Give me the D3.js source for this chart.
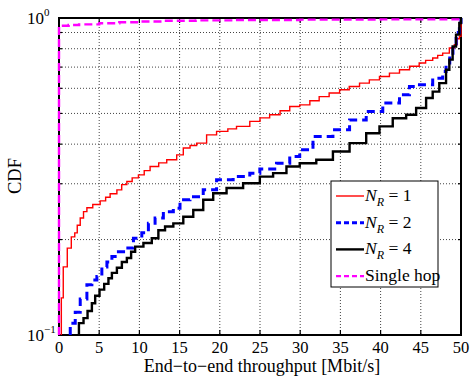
<!DOCTYPE html>
<html>
<head>
<meta charset="utf-8">
<script src="https://cdn.jsdelivr.net/npm/d3@7"></script>
<style>
body { margin: 0; background: #fff; }
text { font-family: "Liberation Serif", "Times New Roman", serif; fill: #000; }
</style>
</head>
<body>
<svg id="chart" width="474" height="376"></svg>
<script>
const xTicks = [0, 5, 10, 15, 20, 25, 30, 35, 40, 45, 50]
const yMinor = [0.2, 0.3, 0.4, 0.5, 0.6, 0.7, 0.8, 0.9]

// [throughput, cdf] at each jump of the step curve
const nr1 = [[0.29, 0.1], [0.29, 0.131], [0.53, 0.164], [1.03, 0.188], [1.53, 0.204], [1.96, 0.21],
    [2.27, 0.222], [2.64, 0.234], [3.05, 0.245], [3.47, 0.252], [4.2, 0.258], [5.12, 0.265],
    [5.8, 0.272], [6.36, 0.279], [7.2, 0.287], [7.8, 0.298], [8.44, 0.305], [9.1, 0.313],
    [9.88, 0.32], [10.6, 0.33], [11.33, 0.34], [12.4, 0.349], [13.4, 0.357], [14.64, 0.37],
    [15.46, 0.389], [16.3, 0.396], [17.12, 0.403], [18.36, 0.428], [19.6, 0.439], [21, 0.447],
    [22.08, 0.455], [23.73, 0.472], [25, 0.484], [26.2, 0.495], [27.5, 0.51], [28.7, 0.526],
    [29.94, 0.532], [31.2, 0.548], [32.36, 0.565], [33.6, 0.58], [34.9, 0.594], [36.1, 0.608],
    [37.38, 0.623], [38.6, 0.638], [39.86, 0.654], [41.1, 0.67], [42.35, 0.687], [43.6, 0.704],
    [44.8, 0.721], [45.6, 0.735], [46.48, 0.748], [47.1, 0.762], [47.72, 0.775], [48.55, 0.804],
    [49.17, 0.823], [49.5, 0.86], [49.8, 0.875], [50, 1]]

const nr2 = [[1.4, 0.1], [1.4, 0.109], [2.02, 0.118], [2.64, 0.13], [3.47, 0.144], [4.09, 0.149],
    [4.71, 0.153], [5.33, 0.164], [5.96, 0.17], [6.58, 0.177], [7.39, 0.183], [8.23, 0.188],
    [9.26, 0.202], [10.3, 0.21], [11.12, 0.225], [11.95, 0.234], [12.98, 0.245], [14.22, 0.251],
    [15.05, 0.267], [16.29, 0.273], [17.94, 0.287], [19.6, 0.309], [21.66, 0.316], [23.73, 0.324],
    [24.98, 0.334], [27.05, 0.348], [28.7, 0.366], [29.94, 0.384], [31.59, 0.423], [34.07, 0.444],
    [36.14, 0.477], [38.21, 0.507], [40.27, 0.539], [42.35, 0.573], [43.59, 0.608], [44.42, 0.616],
    [46.48, 0.646], [47.72, 0.678], [48.14, 0.721], [48.6, 0.76], [49, 0.83], [49.4, 0.9],
    [49.8, 0.97], [50, 1]]

const nr4 = [[2.48, 0.1], [2.48, 0.109], [3.05, 0.113], [3.55, 0.119], [4.09, 0.126], [4.5, 0.133],
    [5.04, 0.139], [5.62, 0.145], [6.15, 0.151], [6.58, 0.157], [7.2, 0.163], [7.82, 0.17],
    [8.44, 0.175], [8.97, 0.183], [9.47, 0.19], [10.5, 0.195], [11.54, 0.202], [12.36, 0.214],
    [13.19, 0.22], [14.22, 0.225], [15.46, 0.236], [16.7, 0.248], [17.94, 0.267], [19.18, 0.28],
    [20.84, 0.291], [22.9, 0.301], [24.98, 0.316], [26.63, 0.324], [28.29, 0.34], [29.94, 0.348],
    [32, 0.357], [34.07, 0.379], [36.14, 0.403], [38.21, 0.433], [39.86, 0.455], [41.51, 0.483],
    [43.18, 0.495], [44.42, 0.52], [45.66, 0.559], [46.48, 0.586], [47.3, 0.623], [48.14, 0.687],
    [48.55, 0.739], [48.96, 0.813], [49.38, 0.886], [49.79, 0.964], [50, 1]]

const singleHop = [[0, 0.1], [0, 0.945], [1.2, 0.95], [2.5, 0.955], [5, 0.963], [7.5, 0.97],
    [10, 0.975], [13, 0.98], [17, 0.983], [22, 0.986], [30, 0.988], [40, 0.99], [50, 0.99]]

const legendNums = ['1', '2', '4']

let svg = d3.select('#chart')
let x = d3.scaleLinear().domain([0, 50]).range([59, 461])
let y = d3.scaleLog().domain([0.1, 1]).range([335, 18])
let [x0, x1] = x.range(), [y0, y1] = y.range()

// grid
let grid = svg.append('g')
    .attr('stroke', '#444')
    .attr('stroke-width', 1)
    .attr('stroke-dasharray', '1,2')
grid.selectAll('.gx').data(xTicks.slice(1, -1)).join('line')
    .attr('x1', d => x(d)).attr('x2', d => x(d))
    .attr('y1', y1).attr('y2', y0)
grid.selectAll('.gy').data(yMinor).join('line')
    .attr('x1', x0).attr('x2', x1)
    .attr('y1', d => y(d)).attr('y2', d => y(d))

// ticks, inward on all four sides
let ticks = svg.append('g').attr('stroke', '#000').attr('stroke-width', 1.2)
xTicks.forEach(d => {
    ticks.append('line').attr('x1', x(d)).attr('x2', x(d)).attr('y1', y0).attr('y2', y0 - 5)
    ticks.append('line').attr('x1', x(d)).attr('x2', x(d)).attr('y1', y1).attr('y2', y1 + 5)
})
yMinor.forEach(d => {
    ticks.append('line').attr('x1', x0).attr('x2', x0 + 3).attr('y1', y(d)).attr('y2', y(d))
    ticks.append('line').attr('x1', x1).attr('x2', x1 - 3).attr('y1', y(d)).attr('y2', y(d))
})

svg.append('rect')
    .attr('x', x0).attr('y', y1)
    .attr('width', x1 - x0).attr('height', y0 - y1)
    .attr('fill', 'none')
    .attr('stroke', '#000')
    .attr('stroke-width', 2)

let line = d3.line()
    .x(d => x(d[0]))
    .y(d => y(d[1]))
    .curve(d3.curveStepAfter)

let series = [
    {data: nr1, color: '#ff0000', width: 1.4, dash: null},
    {data: nr2, color: '#0000ff', width: 3, dash: '8,5'},
    {data: nr4, color: '#000000', width: 2.4, dash: null},
    {data: singleHop, color: '#ff00ff', width: 2.4, dash: '8,4'}
]

svg.append('g').selectAll('path').data(series).join('path')
    .attr('d', d => line(d.data))
    .attr('fill', 'none')
    .attr('stroke', d => d.color)
    .attr('stroke-width', d => d.width)
    .attr('stroke-dasharray', d => d.dash)
    .attr('stroke-linejoin', 'miter')

// tick labels
svg.append('g').selectAll('text').data(xTicks).join('text')
    .attr('x', d => x(d))
    .attr('y', 353)
    .attr('text-anchor', 'middle')
    .style('font-size', '16.5px')
    .text(d => d)

let yLab = svg.append('g')
;[[1, '0', 24], [0.1, '\u22121', 341]].forEach(([v, exp, ty]) => {
    let t = yLab.append('text')
        .attr('x', 27)
        .attr('y', ty)
        .style('font-size', '17px')
    t.append('tspan').text('10')
    t.append('tspan').attr('dy', -8).style('font-size', '11px').text(exp)
})

svg.append('text')
    .attr('transform', 'translate(21,176) rotate(-90)')
    .attr('text-anchor', 'middle')
    .style('font-size', '18.5px')
    .text('CDF')

svg.append('text')
    .attr('x', 262)
    .attr('y', 372)
    .attr('text-anchor', 'middle')
    .style('font-size', '18px')
    .text('End\u2212to\u2212end throughput [Mbit/s]')

// legend
let legend = svg.append('g')
legend.append('rect')
    .attr('x', 331).attr('y', 181)
    .attr('width', 107).attr('height', 106)
    .attr('fill', '#fff')
    .attr('stroke', '#000')
    .attr('stroke-width', 1)

series.forEach((s, i) => {
    let ry = 196 + i * 26.7
    legend.append('line')
        .attr('x1', 336).attr('x2', 364)
        .attr('y1', ry).attr('y2', ry)
        .attr('stroke', s.color)
        .attr('stroke-width', s.width)
        .attr('stroke-dasharray', s.dash ? '5,3' : null)
    let t = legend.append('text')
        .attr('x', 365)
        .attr('y', ry + 5)
        .style('font-size', '17.5px')
    if (i < legendNums.length) {
        t.append('tspan').style('font-style', 'italic').text('N')
        t.append('tspan').attr('dy', 5).style('font-style', 'italic').style('font-size', '12px').text('R')
        t.append('tspan').attr('dy', -5).text(' = ' + legendNums[i])
    } else {
        t.text('Single hop')
    }
})
</script>
</body>
</html>
